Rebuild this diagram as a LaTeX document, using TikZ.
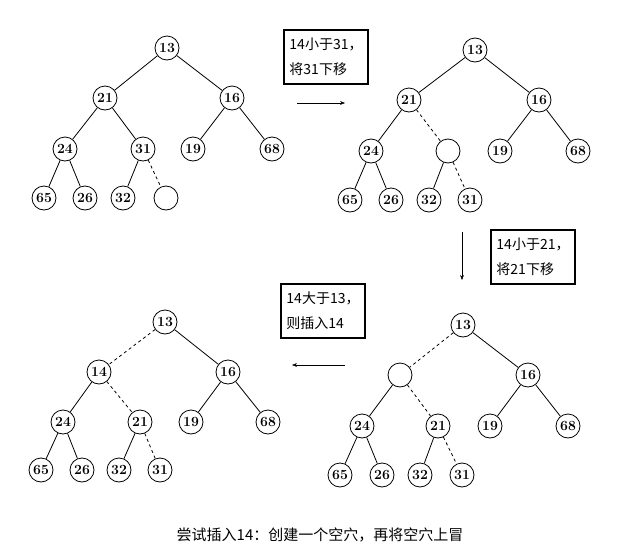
\documentclass[tikz,border=0pt]{standalone}
\usepackage{fontspec}
\newfontfamily\cjk{Noto Sans CJK SC}
\usetikzlibrary{arrows.meta}
\begin{document}
\begin{tikzpicture}[x=1pt,y=-1pt,
 nd/.style={circle,draw,thick,minimum size=24pt,inner sep=0pt,font=\fontsize{14}{14}\selectfont\bfseries},
 ln/.style={thick},
 dl/.style={thick,dashed},
 bx/.style={draw,line width=2.5pt,minimum width=84pt,minimum height=54pt,align=left,inner sep=4pt,font=\cjk\fontsize{14}{25}\selectfont},
 ar/.style={-{Stealth[length=5pt]}}]
\useasboundingbox (0,0) rectangle (622,560);
% tree 1
\node[nd] (a1) at (167,48) {13};
\node[nd] (a2) at (105,98) {21};
\node[nd] (a3) at (232,98) {16};
\node[nd] (a4) at (65,149) {24};
\node[nd] (a5) at (143,149) {31};
\node[nd] (a6) at (193,149) {19};
\node[nd] (a7) at (272,149) {68};
\node[nd] (a8) at (44,198) {65};
\node[nd] (a9) at (85,198) {26};
\node[nd] (a10) at (123,198) {32};
\node[nd] (a11) at (166,198) {};
\draw[ln] (a1)--(a2) (a1)--(a3) (a2)--(a4) (a2)--(a5) (a3)--(a6) (a3)--(a7) (a4)--(a8) (a4)--(a9) (a5)--(a10);
\draw[dl] (a5)--(a11);
% tree 2
\node[nd] (b1) at (475,50) {13};
\node[nd] (b2) at (409,100) {21};
\node[nd] (b3) at (539,100) {16};
\node[nd] (b4) at (371,151) {24};
\node[nd] (b5) at (448,151) {};
\node[nd] (b6) at (500,151) {19};
\node[nd] (b7) at (578,151) {68};
\node[nd] (b8) at (350,200) {65};
\node[nd] (b9) at (391,200) {26};
\node[nd] (b10) at (429,200) {32};
\node[nd] (b11) at (470,200) {31};
\draw[ln] (b1)--(b2) (b1)--(b3) (b2)--(b4) (b3)--(b6) (b3)--(b7) (b4)--(b8) (b4)--(b9) (b5)--(b10);
\draw[dl] (b2)--(b5) (b5)--(b11);
% tree 3
\node[nd] (c1) at (463,325) {13};
\node[nd] (c2) at (400,375) {};
\node[nd] (c3) at (528,375) {16};
\node[nd] (c4) at (362,426) {24};
\node[nd] (c5) at (438,426) {21};
\node[nd] (c6) at (490,426) {19};
\node[nd] (c7) at (568,426) {68};
\node[nd] (c8) at (340,475) {65};
\node[nd] (c9) at (382,475) {26};
\node[nd] (c10) at (420,475) {32};
\node[nd] (c11) at (462,475) {31};
\draw[ln] (c1)--(c3) (c2)--(c4) (c3)--(c6) (c3)--(c7) (c4)--(c8) (c4)--(c9) (c5)--(c10);
\draw[dl] (c1)--(c2) (c2)--(c5) (c5)--(c11);
% tree 4
\node[nd] (d1) at (165,322) {13};
\node[nd] (d2) at (99,372) {14};
\node[nd] (d3) at (228,372) {16};
\node[nd] (d4) at (63,422) {24};
\node[nd] (d5) at (140,422) {21};
\node[nd] (d6) at (191,422) {19};
\node[nd] (d7) at (268,422) {68};
\node[nd] (d8) at (41,470) {65};
\node[nd] (d9) at (82,470) {26};
\node[nd] (d10) at (119,470) {32};
\node[nd] (d11) at (160,470) {31};
\draw[ln] (d1)--(d3) (d2)--(d4) (d3)--(d6) (d3)--(d7) (d4)--(d8) (d4)--(d9) (d5)--(d10);
\draw[dl] (d1)--(d2) (d2)--(d5) (d5)--(d11);
% boxes
\node[bx] (x1) at (326,57) {14小于31，\\将31下移};
\node[bx] (x2) at (533,257) {14小于21，\\将21下移};
\node[bx] (x3) at (323,311) {14大于13，\\则插入14};
% arrows
\coordinate (p1) at (297,103); \coordinate (q1) at (345,103);
\coordinate (p2) at (462,232); \coordinate (q2) at (462,280);
\coordinate (p3) at (345,365); \coordinate (q3) at (292,365);
\draw[ar] (p1)--(q1); \draw[ar] (p2)--(q2); \draw[ar] (p3)--(q3);
\node[font=\cjk\fontsize{15}{15}\selectfont] (cap) at (320,535) {尝试插入14：创建一个空穴，再将空穴上冒};
\end{tikzpicture}
\end{document}
